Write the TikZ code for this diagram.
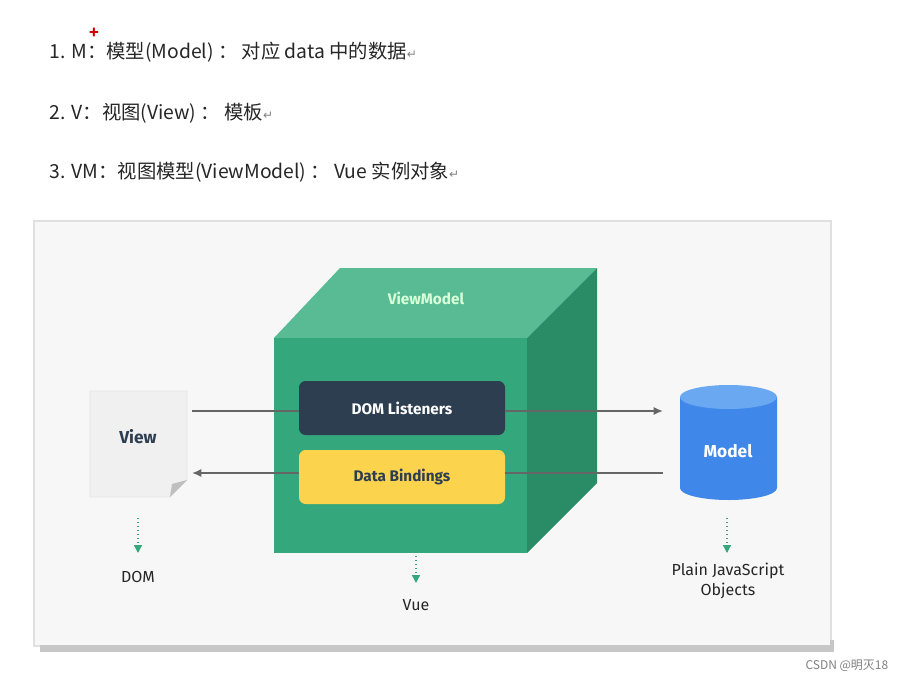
\documentclass[tikz,border=0pt]{standalone}
\usepackage{fontspec}
\setmainfont{Noto Sans CJK SC}
\newfontfamily\lab{Fira Sans}
\newfontfamily\dejafont{DejaVu Sans}
\usetikzlibrary{arrows.meta,shapes.geometric,shadows}
\definecolor{gfront}{HTML}{34A77C}
\definecolor{gtop}{HTML}{58BB94}
\definecolor{gside}{HTML}{2A8C66}
\definecolor{navy}{HTML}{2D3E50}
\definecolor{yel}{HTML}{FCD34D}
\definecolor{mblue}{HTML}{3F87E8}
\definecolor{mtop}{HTML}{6AA8F2}
\newcommand{\retmark}{\textcolor{gray}{{\dejafont\fontsize{9}{9}\selectfont ↵}}}
\tikzset{
 line/.style={draw=gray!80!black,line width=1.2pt,-{Latex[length=7pt,width=6pt]}},
 dotar/.style={draw=gfront,line width=1pt,dotted,-{Triangle[length=6pt,width=6pt,fill=gfront]}},
 hd/.style={anchor=west,font=\fontsize{14.5}{17}\selectfont,text=black!85},
 lbl/.style={font=\lab\bfseries\fontsize{11.5}{13}\selectfont},
 captxt/.style={font=\lab\fontsize{12}{15}\selectfont,align=center,text=black!85}
}
\begin{document}
\begin{tikzpicture}[x=0.75pt,y=-0.75pt]
\useasboundingbox (0,0) rectangle (901,682);
\fill[white] (0,0) rectangle (901,682);
\node[hd] (t1) at (45,52) {1. M：模型(Model) ： 对应 data 中的数据\retmark};
\node[hd] (t2) at (45,113) {2. V：视图(View) ： 模板\retmark};
\node[hd] (t3) at (45,172) {3. VM：视图模型(ViewModel) ：  Vue 实例对象\retmark};
\node[text=red!80!black,font=\bfseries\fontsize{12}{12}\selectfont,inner sep=0] (plus) at (94,33) {+};
% panel
\fill[black!12] (33,220) rectangle (832,647);
\fill[black!22] (40,640) rectangle (834,652);
\fill[black!3] (35,222) rectangle (830,645);
% cube
\fill[gtop] (274,338) -- (340,268) -- (597,268) -- (527,338) -- cycle;
\fill[gside] (527,338) -- (597,268) -- (597,483) -- (527,553) -- cycle;
\fill[gfront] (274,338) rectangle (527,553);
\node[lbl,text=white!85!green] (vm) at (426,298) {ViewModel};
% view doc
\fill[black!6,draw=black!10] (90,391) -- (187,391) -- (187,480) -- (170,497) -- (90,497) -- cycle;
\fill[black!25] (187,480) -- (172,484) -- (170,497) -- cycle;
\node[lbl,text=navy,font=\lab\bfseries\fontsize{13}{15}\selectfont] (view) at (138,437) {View};
% boxes
\node[lbl,fill=navy,text=white,rounded corners=5pt,minimum width=206*0.75pt,minimum height=54*0.75pt] (dl) at (402,408) {DOM Listeners};
\node[lbl,fill=yel,text=navy,rounded corners=5pt,minimum width=206*0.75pt,minimum height=54*0.75pt] (db) at (402,477) {Data Bindings};
% model cylinder
\fill[mblue] (680,397) -- (680,488) arc[start angle=180,end angle=0,x radius=48.5,y radius=12] -- (777,397) -- cycle;
\fill[mtop] (728.5,397) ellipse[x radius=48.5,y radius=12];
\node[lbl,text=white,font=\lab\bfseries\fontsize{13}{15}\selectfont] (model) at (728,451) {Model};
% arrows
\coordinate (a1) at (192,411); \coordinate (a2) at (663,411);
\coordinate (b1) at (663,473); \coordinate (b2) at (192,473);
\draw[line,-] (a1) -- (dl.west |- a1);
\draw[line] (dl.east |- a2) -- (a2);
\draw[line,-] (b1) -- (db.east |- b1);
\draw[line] (db.west |- b2) -- (b2);
% dotted
\node[captxt] (dom) at (138,577) {DOM};
\node[captxt] (vue) at (416,605) {Vue};
\node[captxt] (pjs) at (728,581) {Plain JavaScript\\Objects};
\coordinate (d0) at (138,518); \coordinate (v0) at (416,556); \coordinate (m0) at (727,518);
\coordinate (d1) at (138,553); \coordinate (v1) at (416,583); \coordinate (m1) at (727,553);
\draw[dotar] (d0) -- (d1);
\draw[dotar] (v0) -- (v1);
\draw[dotar] (m0) -- (m1);
\node[font=\fontsize{9}{10}\selectfont,text=gray,anchor=east] (wm) at (893,666) {CSDN @明灭18};
\end{tikzpicture}
\end{document}
